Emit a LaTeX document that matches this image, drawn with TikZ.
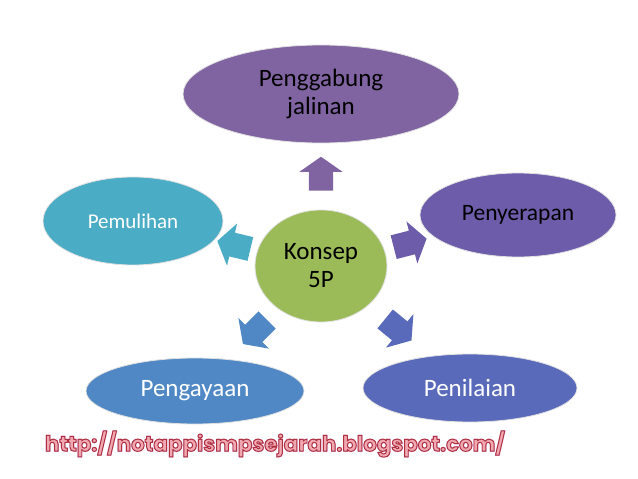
\documentclass[tikz,border=0pt]{standalone}
\usepackage{fontspec}
\setmainfont{Carlito}
\newfontfamily\urlfont{Poppins}
\newfontfamily\urlglowfont{Poppins}[FakeBold=6]
\usetikzlibrary{shapes.geometric,shapes.arrows}

\definecolor{konsepgreen}{RGB}{155,187,89}
\definecolor{jalinpurple}{RGB}{128,100,162}
\definecolor{serapviolet}{RGB}{108,92,170}
\definecolor{pulihteal}{RGB}{75,172,198}
\definecolor{kayablue}{RGB}{80,136,198}
\definecolor{nilaiindigo}{RGB}{90,106,186}
\definecolor{urlpink}{RGB}{240,168,178}
\definecolor{urlglow}{RGB}{222,185,236}

% outlined text: fill in the current colour, stroke in dark red
\newcommand\outlinedtext[1]{\special{pdf:literal 1 j 2 Tr 0.45 w 0.690 0.188 0.243 RG}#1\special{pdf:literal 0 Tr}}

\tikzset{
	bubble/.style   = {ellipse, inner sep=0pt, draw=white!88!black, line width=0.8pt, align=center,
	                   font=\fontsize{25}{28}\selectfont},
	fatarrow/.style = {single arrow, draw=none, inner xsep=0pt, inner ysep=12pt, minimum height=34pt,
	                   single arrow head extend=9.5pt, single arrow tip angle=110}
}

\begin{document}
\begin{tikzpicture}[x=1pt, y=-1pt]
	\useasboundingbox (0,0) rectangle (638,479);
	% the five P around the centre
	\node[bubble, fill=jalinpurple, minimum width=276pt, minimum height=98pt] (jalinan) at (321,94) {Penggabung\\jalinan};
	\node[bubble, fill=serapviolet, minimum width=196pt, minimum height=84pt,
	      font=\fontsize{23.5}{27}\selectfont] (serapan) at (518,215) {Penyerapan};
	\node[bubble, fill=pulihteal, text=white, minimum width=180pt, minimum height=88pt,
	      font=\fontsize{21}{24}\selectfont] (pulihan) at (133,221) {Pemulihan};
	\node[bubble, fill=kayablue, text=white, minimum width=218pt, minimum height=66pt] (kayaan) at (195,391) {Pengayaan};
	\node[bubble, fill=nilaiindigo, text=white, minimum width=214pt, minimum height=68pt] (nilaian) at (470,388) {Penilaian};
	\node[bubble, fill=konsepgreen, minimum width=132pt, minimum height=112pt] (konsep) at (321,266) {Konsep\\5P};
	% arrows out of the centre
	\node[fatarrow, fill=jalinpurple, rotate=90]    (toJalinan) at (321,178) {};
	\node[fatarrow, fill=serapviolet, rotate=14.5]  (toSerapan) at (406,244) {};
	\node[fatarrow, fill=pulihteal,   rotate=166.5] (toPulihan) at (238,246) {};
	\node[fatarrow, fill=kayablue,    rotate=225]   (toKayaan)  at (258,329) {};
	\node[fatarrow, fill=nilaiindigo, rotate=-39.3] (toNilaian) at (395,327) {};
	% blog address
	\node[text=urlglow] (urlback) at (275,444) {\resizebox{460pt}{!}{\urlglowfont\bfseries http://notappismpsejarah.blogspot.com/}};
	\node[text=urlpink] (url) at (275,444) {\resizebox{460pt}{!}{\urlfont\bfseries\outlinedtext{http://notappismpsejarah.blogspot.com/}}};
\end{tikzpicture}
\end{document}
